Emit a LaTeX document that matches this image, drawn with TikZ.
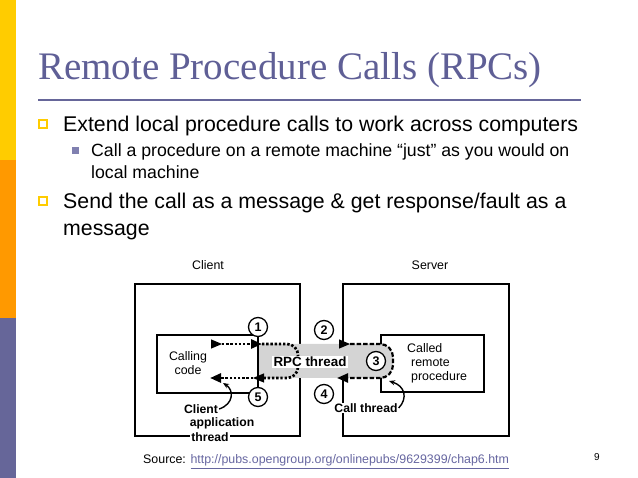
\documentclass[tikz,border=0pt]{standalone}
\usepackage{fontspec}
\setmainfont{Liberation Sans}
\newfontfamily\titlefont{Liberation Serif}
\usetikzlibrary{arrows.meta}
\definecolor{barYellow}{HTML}{FFCC00}
\definecolor{barOrange}{HTML}{FF9900}
\definecolor{barPurple}{HTML}{666699}
\definecolor{titleCol}{RGB}{95,95,150}
\definecolor{subCol}{RGB}{128,128,176}
\definecolor{bandGray}{RGB}{212,212,212}
\definecolor{linkCol}{RGB}{102,102,160}
\tikzset{
  bigtext/.style={anchor=base west, inner sep=0pt, font=\fontsize{21.3}{26}\selectfont},
  subtext/.style={anchor=base west, inner sep=0pt, font=\fontsize{17.7}{22}\selectfont},
  sqbullet/.style={draw=barYellow, line width=1.6pt, minimum size=8.5pt, inner sep=0pt},
  subbullet/.style={fill=subCol, minimum size=7pt, inner sep=0pt},
  dtext/.style={inner sep=0pt, font=\fontsize{12.4}{14}\selectfont},
  btext/.style={inner sep=1pt, font=\bfseries\fontsize{12.2}{14}\selectfont},
  frame/.style={draw, line width=1.4pt, inner sep=0pt},
  inbox/.style={draw, line width=1.2pt, inner sep=0pt},
  numc/.style={circle, draw, fill=white, line width=1.3pt, minimum size=19pt, inner sep=0pt, font=\bfseries\fontsize{12.5}{13}\selectfont},
  dotline/.style={line width=2.7pt, dash pattern=on 2.4pt off 1.8pt},
  dashline/.style={line width=2.2pt, dash pattern=on 4.5pt off 2pt},
  tiponly/.style={line width=1pt, -{Triangle[length=11pt,width=9pt]}},
  tipend/.style={-{Triangle[length=11pt,width=9pt]}},
  curvearrow/.style={line width=1.4pt, -{Stealth[length=6pt,width=5pt]}}
}
\begin{document}
\begin{tikzpicture}[x=1pt,y=-1pt]
\useasboundingbox (0,0) rectangle (638,478);
% side bar
\fill[barYellow] (0,0) rectangle (16,160);
\fill[barOrange] (0,160) rectangle (16,318);
\fill[barPurple] (0,318) rectangle (16,478);
% title
\node[anchor=base west, inner sep=0pt, text=titleCol, font=\titlefont\fontsize{39}{47}\selectfont] (title) at (38,80) {Remote Procedure Calls (RPCs)};
\coordinate (ruleL) at (38,100);
\coordinate (ruleR) at (581,100);
\draw[barPurple, line width=2pt] (ruleL) -- (ruleR);
% bullets
\node[sqbullet] (b1) at (43,124) {};
\node[bigtext] (t1) at (63,131.5) {Extend local procedure calls to work across computers};
\node[subbullet] (sb1) at (75.5,151) {};
\node[subtext] (s1a) at (91,157) {Call a procedure on a remote machine “just” as you would on};
\node[subtext] (s1b) at (91,179) {local machine};
\node[sqbullet] (b2) at (43,201) {};
\node[bigtext] (t2a) at (63,208.5) {Send the call as a message \& get response/fault as a};
\node[bigtext] (t2b) at (63,235.5) {message};
% diagram headers
\node[dtext] (clientlbl) at (208,265) {Client};
\node[dtext] (serverlbl) at (430,265) {Server};
% outer boxes
\node[frame, minimum width=165pt, minimum height=152pt] (client) at (217.5,360) {};
\node[frame, minimum width=166pt, minimum height=152pt] (server) at (426,360) {};
% inner boxes
\node[inbox, minimum width=101pt, minimum height=58pt] (callbox) at (207.5,364) {};
\node[inbox, minimum width=103pt, minimum height=57pt] (calledbox) at (432.5,363.5) {};
% gray band
\coordinate (bandTL) at (258,344);
\coordinate (bandTR) at (393,344);
\coordinate (bandBR) at (393,378);
\coordinate (bandBL) at (258,378);
\fill[bandGray] (bandBL) -- (bandTL) [rounded corners=13pt] -- (bandTR) -- (bandBR) [sharp corners] -- (bandBL) -- cycle;
% texts in boxes
\node[dtext, align=center] (calltext) at (188,363) {Calling\\code};
\node[dtext, align=left, anchor=west] (calledtext) at (411,363.5) {\hspace*{-4pt}Called\\remote\\procedure};
% circles
\node[numc] (c1) at (258,327) {1};
\node[numc] (c5) at (258,397) {5};
\node[numc] (c2) at (324,330) {2};
\node[numc] (c4) at (324,394) {4};
% thick right edge of calling box
\draw[line width=2pt] (c1) -- (c5);
% client side dotted path
\coordinate (ca0) at (211,344);
\coordinate (ca1) at (222,344);
\coordinate (ca2) at (262,344);
\coordinate (caR1) at (298,344);
\coordinate (caR2) at (298,378);
\coordinate (cb0) at (264,378);
\coordinate (cb1) at (253,378);
\coordinate (cb2) at (210,378);
\draw[tiponly] (ca0) -- (ca1);
\draw[dotline, tipend] (ca1) -- (ca2);
\draw[dotline, rounded corners=11pt] (ca2) -- (caR1) -- (caR2) -- (cb0);
\draw[tiponly] (cb0) -- (cb1);
\draw[dotline, tipend] (cb1) -- (cb2);
% RPC label over dotted curve
\node[fill=white, inner sep=1.5pt, font=\bfseries\fontsize{13.4}{14}\selectfont] (rpc) at (310,362) {RPC thread};
% server side dashed path
\coordinate (sa0) at (339,344);
\coordinate (sa1) at (350,344);
\coordinate (sb0) at (337,378);
\draw[tiponly] (sa0) -- (sa1);
\draw[dashline, rounded corners=13pt, tipend] (sa1) -- (bandTR) -- (bandBR) -- (sb0);
\node[numc] (c3) at (376,361) {3};
% thread labels
\node[btext] (ctl1) at (201,409) {Client};
\node[btext] (ctl2) at (222,423) {application};
\node[btext, fill=white] (ctl3) at (210,437) {thread};
\node[btext, fill=white] (calltl) at (366,408) {Call thread};
\coordinate (ctTip) at (223,383);
\coordinate (callTip) at (389,381);
\draw[curvearrow] (ctl1.east) .. controls (234,404) and (234,390) .. (ctTip);
\draw[curvearrow] (calltl.east) .. controls (408,398) and (405,386) .. (callTip);
% source
\node[anchor=base west, inner sep=0pt, font=\fontsize{12.4}{14}\selectfont] (src) at (143,464) {Source: \textcolor{linkCol}{\underline{http://pubs.opengroup.org/onlinepubs/9629399/chap6.htm}}};
\node[inner sep=0pt, font=\fontsize{10}{12}\selectfont] (pg) at (597,457) {9};
\end{tikzpicture}
\end{document}
